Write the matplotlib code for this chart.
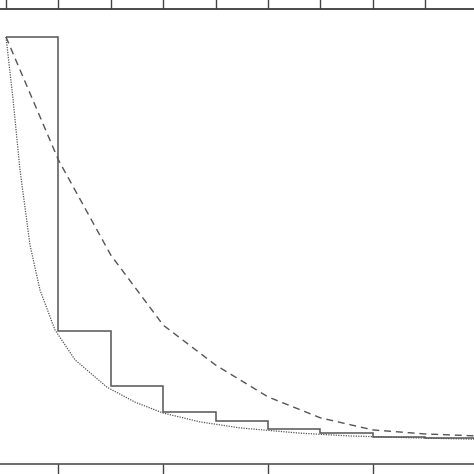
import matplotlib
matplotlib.use("Agg")
import matplotlib.pyplot as plt
import numpy as np

# histogram (step) heights per bin, bin edges at integers
bin_edges = np.arange(0, 11)
hist_vals = [1.0, 0.270, 0.134, 0.070, 0.047, 0.027, 0.017, 0.008, 0.005, 0.003]

# dashed curve, sampled at the bin edges
dash_x = [0, 1, 2, 3, 4, 5, 6, 7, 8, 9]
dash_y = [1.0, 0.695, 0.459, 0.285, 0.186, 0.107, 0.055, 0.025, 0.015, 0.010]

# dotted curve
dot_x = [0, 0.134, 0.267, 0.458, 0.649, 0.935, 1.317, 1.927, 2.462, 2.996,
         3.702, 4.466, 5.611, 6.565, 7.901, 8.931]
dot_y = [1.0, 0.846, 0.670, 0.484, 0.372, 0.273, 0.199, 0.131, 0.094, 0.067,
         0.045, 0.030, 0.017, 0.010, 0.005, 0.002]

W = H = 474
fig = plt.figure(figsize=(W / 100, H / 100), dpi=100)
ax = fig.add_axes([0, 10 / H, 1, 455 / H])

line_c = "#555555"
ax.stairs(hist_vals, bin_edges, baseline=None, color=line_c, lw=1.1)
ax.plot(dash_x, dash_y, color=line_c, lw=1.0, ls=(0, (5, 3.5)))
ax.plot(dot_x, dot_y, color=line_c, lw=0.9, ls=(0, (1, 1)))

ax.set_xlim(-6 / 52.4, 468 / 52.4)
ax.set_ylim(-24 / 403, 431 / 403)

for s in ["left", "right"]:
    ax.spines[s].set_visible(False)
for s in ["top", "bottom"]:
    ax.spines[s].set_color("#444444")
    ax.spines[s].set_linewidth(1.1)

ax.set_yticks([])
ax.set_xticks([1, 3, 5, 7])
ax.set_xticklabels([])
ax.tick_params(axis="x", direction="out", length=9, width=1.0, color="#444444")

top = ax.secondary_xaxis("top")
top.set_xticks(range(9))
top.set_xticklabels([])
top.tick_params(direction="out", length=9, width=1.0, color="#444444")
top.spines["top"].set_color("#444444")
top.spines["top"].set_linewidth(1.1)

fig.savefig("out.png", dpi=100)
